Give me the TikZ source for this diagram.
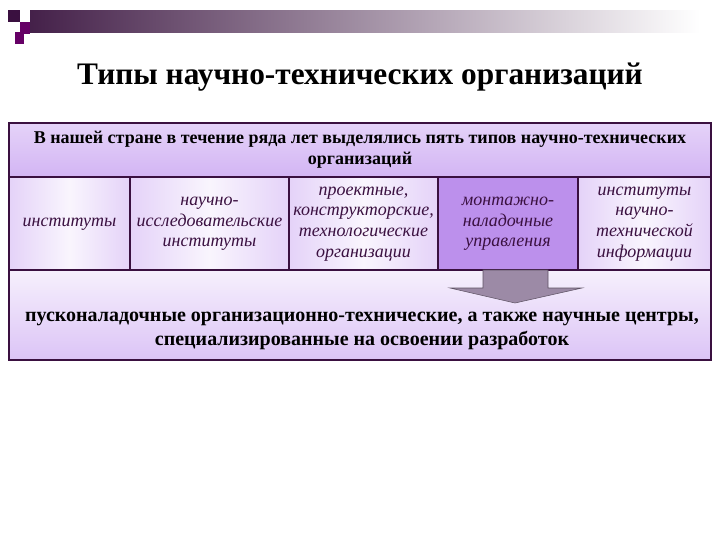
\documentclass[tikz,border=0pt]{standalone}
\usepackage{fontspec}
\setmainfont{Liberation Serif}
\definecolor{lav}{HTML}{C49CF0}
\definecolor{lavd}{HTML}{BC90EC}
\definecolor{ink}{HTML}{3A1040}
\definecolor{arr}{HTML}{9C8AA6}
\begin{document}
\begin{tikzpicture}[x=0.75pt,y=-0.75pt,
  cell/.style={draw=ink,line width=1.2pt},
  ctext/.style={font=\itshape\fontsize{13.5pt}{15.5pt}\selectfont,align=center,text=ink},
  btext/.style={font=\bfseries\fontsize{13.5pt}{15.5pt}\selectfont,align=center}]
\useasboundingbox (0,0) rectangle (720,540);
\fill[white] (0,0) rectangle (720,540);
% top bar
\shade[left color=ink!85!gray,right color=white] (30,10) rectangle (700,32);
\fill[ink] (8,10) rectangle (20,22);
\fill[violet!80!black] (20,22) rectangle (30,34);
\fill[violet!80!black] (15,32) rectangle (24,44);
\node (title) at (360,77) {\bfseries\fontsize{23.5pt}{26pt}\selectfont Типы научно-технических организаций};
% header
\shade[cell,top color=lav!45,bottom color=lav!75] (9,123) rectangle (711,177);
\node[btext] (hdr) at (360,150) {В нашей стране в течение ряда лет выделялись пять типов научно-технических\\организаций};
% cells
\foreach \a/\b in {9/130,130/289,289/438,578/711}{
  \shade[cell,left color=lav!45,right color=lav!45,middle color=lav!10] (\a,177) rectangle (\b,270);
}
\fill[cell,fill=lavd] (438,177) rectangle (578,270);
\node[ctext] (c1) at (69.5,224) {институты};
\node[ctext] (c2) at (209.5,224) {научно-\\исследовательские\\институты};
\node[ctext] (c3) at (363.5,224) {проектные,\\конструкторские,\\технологические\\организации};
\node[ctext] (c4) at (508,224) {монтажно-\\наладочные\\управления};
\node[ctext] (c5) at (644.5,224) {институты\\научно-\\технической\\информации};
% bottom
\shade[cell,top color=lav!15,bottom color=lav!60] (9,270) rectangle (711,360);
\draw[cell] (9,123) rectangle (711,360);
\fill[arr,draw=arr!60!black,line width=0.4pt] (483,270) -- (548,270) -- (548,288) -- (582,288) -- (515,303) -- (450,288) -- (483,288) -- cycle;
\node[btext,font=\bfseries\fontsize{15pt}{18pt}\selectfont] (res) at (362,331) {пусконаладочные организационно-технические, а также научные центры,\\специализированные на освоении разработок};
\end{tikzpicture}
\end{document}
